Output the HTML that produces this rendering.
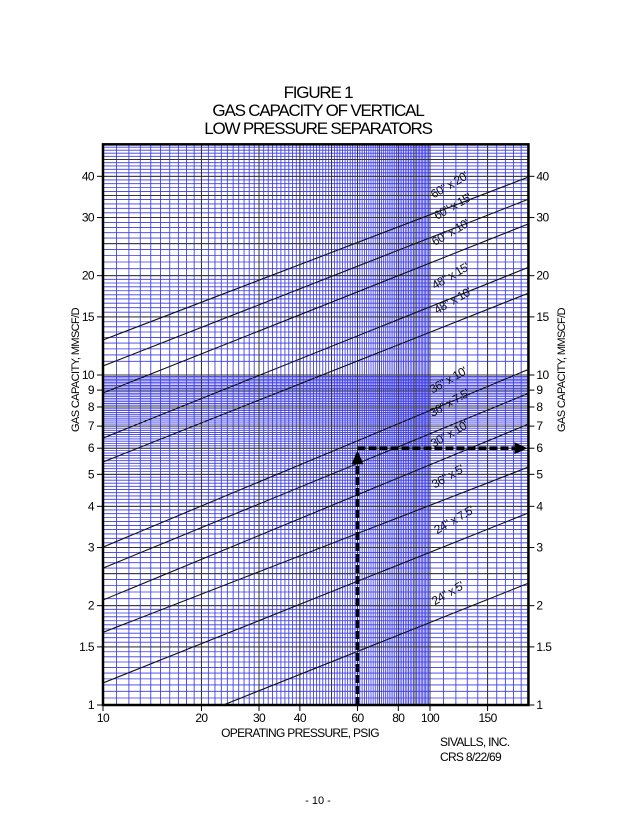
<!DOCTYPE html>
<html><head><meta charset="utf-8"><style>
body{margin:0;background:#fff;width:638px;height:826px;overflow:hidden;font-family:"Liberation Sans",sans-serif}
svg{position:absolute;left:0;top:0}
</style></head><body>
<svg id="chart" width="638" height="826" xmlns="http://www.w3.org/2000/svg">
<defs><clipPath id="plotclip"><rect x="103" y="145" width="425.5" height="560"/></clipPath></defs>
<g font-family="Liberation Sans, sans-serif" font-size="17" text-anchor="middle" letter-spacing="-1.2">
<text x="318" y="98">FIGURE 1</text>
<text x="318" y="116">GAS CAPACITY OF VERTICAL</text>
<text x="318" y="134">LOW PRESSURE SEPARATORS</text>
</g>
<g id="grid"></g>
<g id="curves" clip-path="url(#plotclip)"></g>
<g id="arrows"></g>
<g id="axes" font-family="Liberation Sans, sans-serif" font-size="12" letter-spacing="-0.6"></g>
<text x="79" y="370" transform="rotate(-90 79 370)" text-anchor="middle" font-size="11" letter-spacing="-0.6">GAS CAPACITY, MMSCF/D</text>
<text x="565" y="370" transform="rotate(-90 565 370)" text-anchor="middle" font-size="11" letter-spacing="-0.6">GAS CAPACITY, MMSCF/D</text>
<text x="300" y="737" text-anchor="middle" font-size="12" letter-spacing="-0.7">OPERATING PRESSURE, PSIG</text>
<text x="440" y="746" font-size="12" letter-spacing="-0.7">SIVALLS, INC.</text>
<text x="440" y="761" font-size="12" letter-spacing="-0.7">CRS   8/22/69</text>
<text x="318" y="804" text-anchor="middle" font-size="11">- 10 -</text>
</svg>
<script>
const seriesNames = ['60" x 20\'','60" x 15\'','60" x 10\'','48" x 15\'','48" x 10\'','36" x 10\'','36" x 7.5\'','30" x 10\'','36" x 5\'','24" x 7.5\'','24" x 5\''];
const pressures = [10, 200];
const capAt10 = [12.77, 10.65, 8.82, 6.44, 5.45, 3.01, 2.60, 2.08, 1.66, 1.166, 0.715];
const capAt200 = [39.8, 34.1, 28.7, 21.2, 17.7, 10.4, 8.8, 7.1, 5.26, 3.82, 2.34];
const labelPressure = [125, 128, 126, 126, 128, 124, 124, 125, 126, 128, 126];
const xTicks = [10, 20, 30, 40, 60, 80, 100, 150];
const yTicks = [1, 1.5, 2, 3, 4, 5, 6, 7, 8, 9, 10, 15, 20, 30, 40];
const examplePressure = 60, exampleCapacity = 6;

const X0 = 103, DX = 327, Y0 = 705, DY = 330, XMAX = 200, YMAX = 50;
const x = p => X0 + DX * Math.log10(p / 10);
const y = v => Y0 - DY * Math.log10(v);
const NS = 'http://www.w3.org/2000/svg';
function mk(tag, attrs, parent){const e=document.createElementNS(NS,tag);for(const k in attrs)e.setAttribute(k,attrs[k]);parent.appendChild(e);return e;}
const grid = document.getElementById('grid');
const L = x(10), R = x(XMAX), T = y(YMAX), B = y(1);
function vline(p, c, w){const l=mk('line',{x1:x(p),x2:x(p),y1:T,y2:B,stroke:c,'stroke-width':w},grid);

}
function hline(v, c, w){const l=mk('line',{x1:L,x2:R,y1:y(v),y2:y(v),stroke:c,'stroke-width':w},grid);

}
const blue = '#3838e6';
for(let p=10;p<=100;p+=1) vline(p, blue, 0.85);
for(let p=110;p<=200;p+=10) vline(p, blue, 0.85);
const hs=[]; for(let i=0;i<=20;i++) hs.push(1+i*0.05);
for(let i=1;i<=30;i++) hs.push(2+i*0.1);
for(let i=1;i<=50;i++) hs.push(5+i*0.1);
for(let i=2;i<=20;i++) hs.push(10+i*0.5);
for(let i=1;i<=30;i++) hs.push(20+i);
hs.forEach(v=>hline(v, blue, 0.85));
[20,30,40,50,60,70,80,90,100,150].forEach(p=>vline(p,'#333',1));
[1.5,2,2.5,3,4,5,6,7,8,9,10,15,20,25,30,35,40,45].forEach(v=>hline(v,'#333',1));
const frame = mk('rect',{x:L,y:T,width:R-L,height:B-T,fill:'none',stroke:'#000','stroke-width':2.5},grid);



const cg = document.getElementById('curves');
seriesNames.forEach((n,i)=>{
  const ln = mk('line',{x1:x(pressures[0]),y1:y(capAt10[i]),x2:x(pressures[1]),y2:y(capAt200[i]),stroke:'#111','stroke-width':1.1},cg);
  
  
  const lp = labelPressure[i];
  const t = Math.log10(lp/10)/Math.log10(20);
  const lv = Math.pow(10, Math.log10(capAt10[i]) + t*(Math.log10(capAt200[i])-Math.log10(capAt10[i])));
  const lx = x(lp)-28, ly = y(lv)-4;
  const tx = mk('text',{x:lx,y:ly,transform:`rotate(-30 ${lx} ${ly})`,'font-size':12,'letter-spacing':'-0.6',fill:'#111'},cg);
  tx.textContent = n;
  
  
});
const ag = document.getElementById('arrows');
const ex = x(examplePressure), ey = y(exampleCapacity);
const va = mk('line',{x1:ex,y1:B,x2:ex,y2:ey+14,stroke:'#000','stroke-width':3.5,'stroke-dasharray':'8 3'},ag);


const vh = mk('polygon',{points:`${ex-6},${ey+16} ${ex+6},${ey+16} ${ex},${ey+2}`,fill:'#000'},ag);


const ha = mk('line',{x1:ex,y1:ey,x2:R-12,y2:ey,stroke:'#000','stroke-width':3.5,'stroke-dasharray':'8 3'},ag);


const hh = mk('polygon',{points:`${R-14},${ey-6} ${R-14},${ey+6} ${R-1},${ey}`,fill:'#000'},ag);



const ax = document.getElementById('axes');
yTicks.forEach(v=>{
  const a = mk('line',{x1:L-6,x2:L,y1:y(v),y2:y(v),stroke:'#000','stroke-width':1},ax);
  
  
  const b = mk('line',{x1:R,x2:R+6,y1:y(v),y2:y(v),stroke:'#000','stroke-width':1},ax);
  
  
  const t1 = mk('text',{x:L-9,y:y(v)+4,'text-anchor':'end'},ax);
  t1.textContent = v;
  
  
  const t2 = mk('text',{x:R+8,y:y(v)+4},ax);
  t2.textContent = v;
  
  
});
xTicks.forEach(p=>{
  const a = mk('line',{x1:x(p),x2:x(p),y1:B,y2:B+6,stroke:'#000','stroke-width':1},ax);
  
  
  const t = mk('text',{x:x(p),y:B+17,'text-anchor':'middle'},ax);
  t.textContent = p;
  
  
});
</script>
</body></html>
